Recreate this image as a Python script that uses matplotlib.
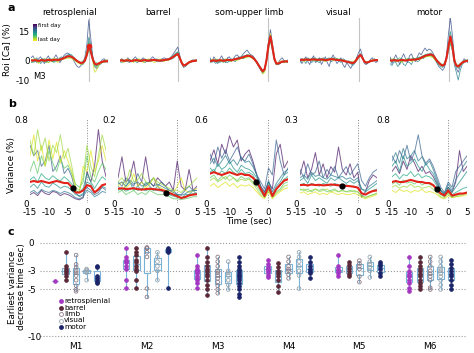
import numpy as np
import matplotlib
matplotlib.use("Agg")
import matplotlib.pyplot as plt
from matplotlib.lines import Line2D

plt.rcParams['font.family'] = ['DejaVu Sans']

# ---------------- data ----------------
regions_a = ["retrosplenial", "barrel", "som-upper limb", "visual", "motor"]
t_a = np.arange(-15, 5.01, 0.5)   # 41 samples
t_b = np.arange(-15, 5.01, 1.0)   # 21 samples

a_mean_retro = [0.2,0.0,0.3,0.1,-0.2,0.2,0.3,0.0,0.2,0.4,0.3, 0.2,0.4,0.5,0.3,0.6,0.9,1.3,1.8,2.2,2.3,
                2.0,1.4,0.6,-0.2,-0.8,-1.2,-1.0,0.0,3.0, 7.5,5.0,1.0,-1.5,-2.0,-1.5,-1.0,-0.6,-0.3,-0.4,-0.2]
a_days_retro = [
    [1.5,2.5,0.5,-1.0,1.0,2.0,0.0,-1.5,1.0,2.5,0.5, -0.5,1.5,3.0,1.0,-1.0,0.5,2.5,3.5,4.0,3.0,
     2.0,0.5,-1.5,-3.0,-3.5,-2.5,-1.0,2.0,8.0, 21.0,12.0,3.0,-3.0,-4.0,-3.0,-1.0,0.5,1.0,-0.5,0.5],
    [-1.0,-0.5,0.5,1.5,0.0,-1.5,-0.5,1.0,0.5,-1.0,0.0, 1.0,0.5,-0.5,0.0,1.5,2.0,1.0,2.5,3.0,3.5,
     3.0,2.0,1.0,0.0,-1.0,-2.0,-2.0,-0.5,4.0, 12.0,9.0,2.0,-2.5,-3.0,-2.0,-2.0,-1.0,0.0,0.5,-1.0],
    [0.5,-1.0,-0.5,0.0,-1.0,0.5,1.0,-0.5,-1.0,0.0,1.0, -0.5,-1.0,0.5,1.0,0.0,0.5,1.5,1.0,2.0,1.5,
     1.5,1.0,0.5,-0.5,-0.5,-1.0,0.0,0.5,2.5, 5.0,4.0,1.0,-0.5,-1.0,-1.5,-1.0,-0.5,-1.0,-0.5,0.0],
    [-0.5,0.5,1.0,-0.5,-1.5,0.0,0.5,1.0,-0.5,-1.0,-0.5, 0.5,1.5,0.0,-1.0,0.5,1.0,0.5,1.5,1.0,1.5,
     1.0,0.5,0.0,-1.0,-1.5,-2.0,-1.5,0.5,5.0, 9.0,6.0,0.0,-6.0,-5.0,-3.0,-1.5,-1.0,0.0,0.5,-0.5],
    [0.0,0.5,-0.5,0.5,0.0,-0.5,1.0,0.5,-0.5,0.5,1.0, 0.0,-0.5,1.0,0.5,0.0,1.5,1.0,2.0,2.5,3.0,
     2.5,1.5,0.5,0.0,-1.0,-1.5,-1.0,0.5,4.0, 10.0,6.0,1.5,-2.0,-2.5,-2.0,-1.0,-0.5,0.0,-0.5,0.0],
    [0.5,0.0,1.0,0.5,-0.5,0.5,0.0,-0.5,0.5,1.0,0.0, 0.5,1.0,0.0,0.5,1.0,0.5,1.5,1.5,2.0,2.0,
     1.5,1.0,0.0,-0.5,-1.0,-1.0,-1.5,-0.5,2.0, 6.0,4.0,0.5,-3.0,-3.5,-2.0,-1.0,-0.5,-0.5,0.0,-0.5],
]

a_mean_barrel = [0.0,0.2,-0.1,0.1,0.2,0.0,-0.2,0.1,0.3,0.2,0.0, -0.1,0.2,0.3,0.1,0.0,0.2,0.4,0.3,0.2,0.1,
                 0.0,0.2,0.3,0.5,0.6,1.0,1.5,2.2,3.0, 3.5,1.5,-1.0,-2.5,-2.2,-1.5,-0.8,-0.4,-0.2,0.0,0.1]
a_days_barrel = [
    [0.5,1.0,-0.5,0.0,1.5,0.5,-0.5,1.0,2.0,0.5,-0.5, 0.5,1.5,0.5,-0.5,0.0,1.0,2.0,1.0,0.5,0.0,
     0.5,1.0,1.5,1.0,0.5,1.5,2.5,4.0,5.5, 7.0,3.0,-1.5,-3.5,-3.0,-2.0,-1.0,0.0,0.5,-0.5,0.0],
    [-0.5,-1.0,0.0,0.5,-0.5,-1.0,0.0,0.5,-0.5,-1.0,0.0, 0.5,-0.5,-1.0,0.0,0.5,-0.5,0.0,0.5,-0.5,-0.5,
     0.0,-0.5,0.5,0.0,0.5,0.5,1.0,1.5,2.5, 3.0,1.0,-1.0,-2.5,-2.5,-1.5,-1.0,-0.5,-0.5,0.0,0.5],
    [0.0,0.5,0.5,-0.5,0.0,0.5,-0.5,-0.5,0.5,1.0,0.5, -0.5,0.0,1.0,0.5,-0.5,0.0,0.5,0.0,1.0,0.5,
     -0.5,0.5,0.0,0.5,1.0,0.5,1.5,2.0,3.5, 4.5,2.0,-0.5,-2.0,-2.5,-1.0,-0.5,-1.0,0.0,0.5,0.0],
    [0.5,-0.5,-1.0,0.5,1.0,-0.5,0.0,-1.0,0.0,-0.5,1.0, 0.0,-1.0,-0.5,0.5,1.0,0.0,-0.5,-1.0,0.0,0.5,
     1.0,0.0,-0.5,0.5,0.0,1.0,2.0,2.5,3.0, 3.5,2.0,-0.5,-3.0,-2.0,-1.5,-0.5,0.0,-0.5,0.5,-0.5],
    [0.0,0.3,0.0,-0.3,0.2,0.5,0.0,-0.2,0.3,0.0,-0.3, 0.2,0.5,0.0,-0.3,0.3,0.5,0.2,0.0,0.5,0.3,
     0.0,0.5,0.5,0.8,1.0,1.2,2.0,3.0,4.0, 4.5,2.0,-1.0,-2.8,-2.5,-1.8,-1.0,-0.5,0.0,0.2,0.0],
    [0.3,0.0,-0.3,0.2,0.0,-0.2,0.3,0.5,0.0,0.2,-0.2, -0.3,0.0,0.3,0.2,-0.2,0.0,0.3,0.5,0.0,0.2,
     0.3,0.0,0.2,0.3,0.5,0.8,1.2,1.8,2.5, 3.0,1.0,-1.5,-2.0,-2.0,-1.2,-0.5,-0.3,-0.3,0.0,0.2],
]

a_mean_som = [-0.3,0.0,0.2,-0.2,0.0,0.3,0.1,-0.1,0.2,0.4,0.3, 0.2,0.5,0.8,1.0,1.2,1.5,1.8,2.2,2.5,2.5,
              2.2,1.5,0.5,-0.8,-2.5,-4.0,-5.5,-4.5,0.5, 8.0,12.5,7.0,1.0,-1.5,-1.5,-1.0,-0.5,-0.5,-0.3,-0.5]
a_days_som = [
    [1.5,-1.0,2.0,0.5,-1.5,1.0,2.5,0.0,-1.0,1.5,2.0, -0.5,1.0,2.5,3.0,1.5,2.0,3.5,4.5,5.5,4.0,
     3.0,2.5,1.0,-1.0,-3.0,-5.0,-6.5,-5.0,1.0, 10.0,16.0,9.0,2.0,-2.0,-1.0,0.5,1.5,0.0,-1.0,0.5],
    [-1.0,0.5,-0.5,-1.5,0.5,-1.0,0.0,1.0,-0.5,-1.0,0.0, 1.0,0.0,-0.5,1.0,2.0,1.5,1.0,2.5,3.0,2.0,
     2.0,1.0,0.5,-0.5,-2.5,-4.0,-5.0,-4.0,0.0, 7.0,11.0,6.0,0.5,-1.0,-2.0,-1.5,-0.5,-1.0,0.0,-1.0],
    [0.0,-0.5,0.5,0.0,-1.0,0.0,-0.5,-1.0,0.5,0.0,-0.5, 0.0,0.5,1.0,0.5,0.5,1.5,1.0,1.5,2.0,2.5,
     2.0,1.5,0.0,-1.5,-3.0,-4.5,-6.0,-5.5,-1.0, 6.0,10.0,5.0,0.0,-2.0,-2.0,-1.0,-1.0,-0.5,-0.5,0.0],
    [-0.5,0.5,0.0,1.0,0.5,-0.5,0.5,0.0,1.0,0.5,0.5, -0.5,0.5,0.5,0.0,1.0,1.0,2.0,1.5,1.5,2.0,
     1.5,1.0,0.0,-1.0,-2.5,-4.0,-7.0,-6.0,0.0, 9.0,14.0,8.0,1.5,-1.0,-1.0,-0.5,0.0,-0.5,-1.0,0.0],
    [0.5,0.0,-0.5,0.5,0.5,-0.5,0.0,0.5,0.0,1.0,0.5, 0.0,1.0,1.0,1.5,1.0,2.0,2.5,2.5,3.0,3.0,
     2.5,2.0,1.0,-0.5,-2.0,-3.5,-5.0,-4.0,1.0, 9.0,13.0,7.5,1.0,-1.5,-2.0,-1.0,-0.5,0.0,-0.5,-0.5],
    [-0.5,0.5,0.0,-0.5,0.0,0.5,-0.5,0.0,-0.5,0.0,0.5, 0.5,0.0,0.5,1.0,1.0,1.0,1.5,2.0,2.0,2.5,
     2.5,1.5,0.5,-1.0,-3.0,-4.5,-6.0,-5.0,0.0, 7.0,12.0,6.5,0.5,-2.0,-1.5,-1.0,-0.5,-1.0,0.0,-0.5],
]

a_mean_visual = [0.3,0.5,0.4,0.6,0.5,0.4,0.6,0.7,0.5,0.4,0.5, 0.6,0.5,0.3,0.4,0.6,0.8,0.7,0.5,0.4,0.3,
                 0.2,0.0,-0.3,-0.5,-0.8,-1.0,-1.2,-0.8,0.5, 2.0,3.0,1.5,-0.5,-1.0,-0.8,-0.3,0.0,0.2,0.3,0.2]
a_days_visual = [
    [1.0,-1.5,0.5,2.0,-0.5,-2.0,1.0,2.5,-1.0,0.5,1.5, -2.0,0.0,2.0,-1.0,-3.0,1.0,3.0,0.5,-1.5,0.0,
     1.5,-2.0,-3.5,-1.0,-2.5,-4.0,-2.0,-1.0,1.5, 4.0,6.0,2.5,-1.5,-2.0,-1.0,0.5,1.5,0.0,-1.0,0.5],
    [-1.0,1.0,0.0,-1.5,1.5,0.5,-1.0,0.0,1.5,-0.5,-1.0, 1.0,1.5,-0.5,1.0,1.5,-0.5,0.0,1.5,1.0,0.0,
     -1.0,1.0,0.5,-1.0,0.0,-1.5,-2.5,-1.5,0.0, 2.0,3.5,1.0,0.0,-1.5,-1.0,-0.5,0.0,1.0,0.5,-0.5],
    [0.5,0.0,1.0,0.5,0.0,1.0,0.5,0.0,-0.5,1.0,0.5, 0.0,0.5,1.0,0.0,0.5,1.0,1.5,0.5,0.0,1.0,
     0.5,0.0,-0.5,0.0,-1.0,-0.5,-1.0,-0.5,0.5, 1.5,2.5,1.5,-0.5,-0.5,-0.5,0.0,-0.5,0.0,0.5,0.0],
    [0.0,0.5,-0.5,0.0,1.0,0.0,0.5,1.0,0.0,0.5,0.0, 0.5,0.0,-0.5,0.5,0.0,1.0,0.0,0.5,1.0,0.5,
     0.0,-0.5,0.0,-0.5,-0.5,-1.0,-0.5,0.0,1.0, 2.0,3.0,1.0,0.0,-1.0,-0.5,0.0,0.5,0.5,0.0,0.5],
    [0.5,1.0,0.0,0.5,1.0,0.0,1.0,1.5,0.5,0.0,1.0, 1.0,0.0,0.5,1.0,0.5,1.5,1.0,0.5,1.0,0.5,
     0.5,0.0,-0.5,-1.0,-1.0,-1.5,-1.5,-1.0,1.0, 2.5,3.5,2.0,-0.5,-1.5,-1.0,-0.5,0.0,0.5,0.0,0.5],
    [0.0,0.5,0.5,1.0,0.0,0.5,0.5,0.0,1.0,0.5,0.0, 0.5,1.0,0.0,0.0,1.0,0.5,0.5,1.0,0.0,0.5,
     0.0,0.5,0.0,-0.5,-1.0,-0.5,-1.0,-0.5,0.0, 1.5,2.5,1.0,0.0,-0.5,-1.0,0.0,0.0,0.5,0.5,0.0],
]

a_mean_motor = [0.2,0.0,0.3,0.1,0.0,0.2,0.4,0.2,0.0,0.3,0.5, 0.4,0.6,0.5,0.8,1.0,1.5,2.0,2.5,2.8,3.0,
                3.2,2.8,1.5,0.0,-1.0,-2.0,-2.5,-2.0,1.5, 7.5,12.5,7.5,0.0,-2.5,-3.0,-2.0,-1.0,-0.5,-0.2,0.0]
a_days_motor = [
    [2.0,-1.5,1.0,3.0,0.5,-2.0,1.5,3.5,1.0,-1.0,2.5, 3.5,1.0,-0.5,2.0,4.0,3.0,5.0,6.5,5.0,6.0,
     5.5,4.0,2.0,-1.0,-3.0,-4.0,-5.0,-3.5,3.0, 14.0,22.0,13.0,2.0,-4.0,-6.0,-3.0,-1.0,1.0,0.0,-1.0],
    [-1.5,-2.5,-0.5,-1.0,-3.0,-1.5,0.0,-2.0,-2.5,-0.5,-1.0, -2.0,0.5,1.0,-0.5,0.0,1.5,1.0,2.0,3.0,2.5,
     3.0,2.0,0.5,-1.0,-2.0,-3.0,-3.5,-2.5,0.5, 5.0,9.0,5.0,-2.0,-6.0,-10.0,-5.0,-2.0,-1.0,-0.5,0.0],
    [0.5,1.0,0.0,-0.5,1.0,1.5,0.5,0.0,1.0,0.5,0.0, 1.0,1.5,0.5,1.0,2.0,1.5,2.5,3.0,2.0,3.0,
     2.5,2.0,1.0,0.5,-0.5,-1.5,-2.0,-1.0,2.0, 8.0,12.0,7.0,1.0,-2.0,-2.5,-1.5,-1.0,0.0,0.5,-0.5],
    [-0.5,0.5,1.0,0.0,-0.5,0.5,-1.0,0.0,0.5,1.0,0.5, -0.5,0.0,0.5,1.5,0.5,1.0,2.0,1.5,2.5,2.0,
     2.0,1.5,0.5,-0.5,-1.5,-2.5,-3.0,-2.0,1.0, 6.0,10.0,6.0,0.5,-2.0,-3.0,-2.0,-1.5,-0.5,0.0,0.5],
    [0.5,0.0,1.0,0.5,0.0,0.5,1.0,0.5,0.0,1.0,1.0, 0.5,1.0,1.0,1.5,1.5,2.0,2.5,3.0,3.5,3.5,
     4.0,3.0,2.0,0.5,-1.0,-2.0,-3.0,-2.0,2.0, 9.0,15.0,9.0,0.5,-3.0,-4.0,-2.5,-1.0,-0.5,0.0,0.5],
    [-0.5,0.5,0.0,-0.5,0.5,0.0,-0.5,0.0,0.5,0.0,0.5, 0.0,0.5,0.0,0.5,1.0,1.0,1.5,2.0,2.5,2.5,
     2.5,2.0,1.0,-0.5,-1.0,-2.0,-2.5,-1.5,1.0, 6.0,11.0,6.0,-0.5,-2.0,-2.5,-1.5,-1.0,0.0,-0.5,0.0],
]

a_means = [a_mean_retro, a_mean_barrel, a_mean_som, a_mean_visual, a_mean_motor]
a_days = [a_days_retro, a_days_barrel, a_days_som, a_days_visual, a_days_motor]

# panel b: variance traces
b_ymax = [0.8, 0.2, 0.6, 0.3, 0.8]
b_ymax_labels = ["0.8", "0.2", "0.6", "0.3", "0.8"]
b_mean = [
    [0.20,0.21,0.20,0.21,0.20,0.19,0.20,0.21,0.20,0.19,0.19,0.15,0.10,0.10,0.12,0.17,0.16,0.10,0.13,0.17,0.18],
    [0.034,0.035,0.033,0.034,0.035,0.033,0.032,0.033,0.034,0.033,0.032,0.031,0.028,0.024,0.020,0.016,0.012,0.014,0.018,0.020,0.021],
    [0.21,0.22,0.21,0.20,0.21,0.22,0.21,0.20,0.21,0.20,0.20,0.18,0.15,0.10,0.05,0.12,0.05,0.10,0.13,0.16,0.17],
    [0.064,0.065,0.063,0.066,0.064,0.065,0.063,0.064,0.066,0.065,0.063,0.062,0.061,0.060,0.058,0.055,0.035,0.030,0.038,0.043,0.045],
    [0.20,0.21,0.20,0.20,0.21,0.22,0.21,0.20,0.20,0.19,0.19,0.17,0.13,0.09,0.07,0.12,0.07,0.08,0.09,0.09,0.10],
]
b_dot_t = [-3.7, -2.8, -3.2, -4.1, -3.0]
b_dot_v = [0.14, 0.024, 0.15, 0.06, 0.133]
b_days = [
    [[0.08,0.10,0.07,0.12,0.09,0.08,0.11,0.10,0.07,0.09,0.08,0.06,0.04,0.03,0.05,0.30,0.20,0.35,0.70,0.40,0.25],
     [0.55,0.45,0.50,0.35,0.40,0.55,0.30,0.35,0.45,0.28,0.33,0.25,0.10,0.06,0.08,0.15,0.12,0.08,0.10,0.15,0.12],
     [0.15,0.18,0.14,0.20,0.16,0.15,0.19,0.17,0.14,0.16,0.15,0.12,0.08,0.07,0.09,0.20,0.18,0.10,0.12,0.16,0.14],
     [0.30,0.40,0.28,0.45,0.35,0.50,0.38,0.30,0.42,0.33,0.36,0.28,0.18,0.15,0.20,0.45,0.25,0.20,0.30,0.38,0.32],
     [0.45,0.65,0.40,0.55,0.35,0.60,0.42,0.58,0.38,0.50,0.40,0.30,0.12,0.10,0.35,0.30,0.50,0.30,0.40,0.55,0.40],
     [0.10,0.12,0.09,0.13,0.11,0.10,0.12,0.11,0.09,0.11,0.10,0.08,0.05,0.04,0.06,0.12,0.10,0.06,0.08,0.11,0.10],
     [0.22,0.25,0.20,0.28,0.24,0.22,0.26,0.23,0.21,0.25,0.22,0.18,0.12,0.10,0.14,0.28,0.20,0.14,0.20,0.25,0.22],
     [0.60,0.45,0.70,0.50,0.62,0.40,0.55,0.48,0.65,0.42,0.52,0.35,0.15,0.12,0.25,0.55,0.35,0.25,0.45,0.65,0.50]],
    [[0.06,0.11,0.05,0.06,0.10,0.04,0.05,0.11,0.05,0.04,0.06,0.05,0.04,0.05,0.03,0.10,0.04,0.03,0.08,0.03,0.04],
     [0.05,0.04,0.06,0.05,0.04,0.07,0.05,0.04,0.05,0.06,0.04,0.05,0.04,0.03,0.03,0.02,0.02,0.03,0.04,0.03,0.03],
     [0.04,0.03,0.04,0.05,0.03,0.04,0.03,0.05,0.04,0.03,0.04,0.03,0.03,0.02,0.02,0.02,0.01,0.02,0.02,0.03,0.02],
     [0.025,0.03,0.02,0.025,0.03,0.02,0.025,0.02,0.03,0.025,0.02,0.02,0.02,0.015,0.01,0.01,0.008,0.01,0.012,0.015,0.015],
     [0.04,0.05,0.035,0.045,0.07,0.04,0.05,0.035,0.045,0.06,0.04,0.035,0.03,0.03,0.025,0.04,0.06,0.03,0.025,0.03,0.035],
     [0.045,0.05,0.04,0.055,0.045,0.05,0.04,0.045,0.05,0.04,0.045,0.04,0.035,0.03,0.025,0.02,0.018,0.022,0.028,0.03,0.03],
     [0.03,0.035,0.028,0.032,0.036,0.03,0.034,0.029,0.033,0.031,0.03,0.028,0.025,0.02,0.016,0.014,0.012,0.015,0.02,0.022,0.024],
     [0.05,0.06,0.045,0.08,0.05,0.055,0.07,0.05,0.045,0.06,0.05,0.045,0.04,0.035,0.03,0.03,0.025,0.035,0.04,0.05,0.06]],
    [[0.30,0.38,0.28,0.42,0.35,0.48,0.40,0.45,0.30,0.35,0.38,0.30,0.20,0.12,0.08,0.15,0.10,0.35,0.42,0.25,0.30],
     [0.35,0.28,0.40,0.32,0.38,0.30,0.35,0.40,0.32,0.30,0.35,0.28,0.20,0.15,0.10,0.25,0.20,0.45,0.30,0.20,0.25],
     [0.25,0.22,0.28,0.24,0.26,0.30,0.25,0.22,0.27,0.25,0.24,0.22,0.18,0.10,0.06,0.15,0.06,0.12,0.15,0.20,0.22],
     [0.18,0.20,0.16,0.19,0.17,0.20,0.18,0.16,0.19,0.17,0.18,0.15,0.12,0.08,0.04,0.10,0.04,0.08,0.10,0.14,0.15],
     [0.12,0.14,0.11,0.13,0.15,0.12,0.14,0.11,0.13,0.12,0.13,0.11,0.08,0.05,0.03,0.08,0.03,0.06,0.08,0.10,0.11],
     [0.28,0.32,0.26,0.30,0.34,0.28,0.31,0.27,0.33,0.29,0.30,0.26,0.20,0.12,0.07,0.16,0.08,0.14,0.18,0.22,0.24],
     [0.22,0.24,0.20,0.23,0.21,0.25,0.22,0.20,0.24,0.21,0.22,0.20,0.15,0.09,0.05,0.12,0.05,0.10,0.13,0.17,0.19],
     [0.16,0.18,0.15,0.17,0.19,0.16,0.18,0.15,0.17,0.16,0.17,0.14,0.10,0.06,0.04,0.09,0.04,0.07,0.09,0.12,0.13]],
    [[0.10,0.15,0.09,0.12,0.18,0.10,0.14,0.09,0.13,0.11,0.20,0.12,0.10,0.14,0.09,0.11,0.02,0.04,0.08,0.10,0.09],
     [0.12,0.09,0.14,0.10,0.11,0.15,0.09,0.12,0.10,0.13,0.09,0.11,0.13,0.10,0.12,0.14,0.08,0.06,0.09,0.11,0.12],
     [0.08,0.09,0.07,0.10,0.08,0.09,0.08,0.07,0.09,0.08,0.09,0.08,0.07,0.08,0.07,0.08,0.05,0.04,0.05,0.06,0.07],
     [0.05,0.045,0.05,0.04,0.05,0.045,0.05,0.04,0.045,0.05,0.04,0.045,0.04,0.045,0.04,0.04,0.025,0.02,0.025,0.03,0.035],
     [0.035,0.04,0.03,0.035,0.04,0.03,0.035,0.03,0.04,0.035,0.03,0.035,0.03,0.03,0.035,0.03,0.02,0.015,0.02,0.025,0.03],
     [0.09,0.10,0.085,0.11,0.095,0.10,0.09,0.085,0.10,0.095,0.09,0.095,0.085,0.09,0.08,0.09,0.05,0.045,0.06,0.07,0.08],
     [0.065,0.07,0.06,0.07,0.065,0.06,0.07,0.065,0.06,0.07,0.065,0.06,0.065,0.06,0.06,0.055,0.035,0.03,0.035,0.045,0.05],
     [0.045,0.05,0.04,0.045,0.05,0.04,0.045,0.05,0.04,0.045,0.04,0.045,0.04,0.04,0.045,0.04,0.025,0.02,0.025,0.03,0.035]],
    [[0.30,0.35,0.28,0.40,0.32,0.45,0.38,0.30,0.35,0.28,0.30,0.25,0.18,0.12,0.08,0.15,0.10,0.20,0.50,0.30,0.35],
     [0.45,0.38,0.50,0.42,0.55,0.40,0.48,0.65,0.45,0.38,0.42,0.35,0.25,0.15,0.10,0.20,0.15,0.30,0.35,0.40,0.45],
     [0.35,0.40,0.30,0.45,0.35,0.38,0.42,0.35,0.30,0.38,0.32,0.28,0.20,0.12,0.08,0.15,0.10,0.15,0.20,0.25,0.30],
     [0.18,0.20,0.17,0.22,0.19,0.20,0.18,0.21,0.17,0.19,0.18,0.16,0.12,0.08,0.06,0.10,0.06,0.07,0.08,0.09,0.10],
     [0.12,0.10,0.13,0.11,0.12,0.10,0.12,0.11,0.13,0.10,0.11,0.10,0.08,0.05,0.04,0.07,0.05,0.06,0.06,0.07,0.08],
     [0.40,0.48,0.38,0.52,0.42,0.45,0.50,0.40,0.44,0.36,0.40,0.32,0.22,0.12,0.09,0.18,0.12,0.22,0.28,0.35,0.40],
     [0.25,0.28,0.23,0.27,0.26,0.30,0.25,0.28,0.24,0.26,0.25,0.22,0.16,0.10,0.07,0.13,0.08,0.10,0.12,0.14,0.15],
     [0.15,0.17,0.14,0.16,0.15,0.18,0.15,0.16,0.14,0.15,0.16,0.13,0.10,0.06,0.05,0.09,0.05,0.06,0.07,0.08,0.09]],
]

# panel c: earliest variance decrease time per mouse / region
mice = ["M1", "M2", "M3", "M4", "M5", "M6"]
c_regions = ["retrosplenial", "barrel", "limb", "visual", "motor"]
c_m1 = [[-4.1],
        [-1.0, -2.5, -2.8, -3.0, -3.2, -3.5, -4.0],
        [-1.3, -2.3, -2.6, -3.0, -3.2, -3.5, -4.0, -4.6, -5.0, -5.2],
        [-2.8, -2.9, -3.0, -3.2, -4.0],
        [-2.5, -2.6, -3.5, -3.8, -4.0, -4.2, -4.3]]
c_m2 = [[-0.5, -1.5, -1.8, -2.0, -2.0, -2.5, -2.8, -4.0, -4.8],
        [-0.5, -1.0, -1.3, -1.8, -2.0, -2.5, -2.8, -3.0, -4.0, -4.8],
        [-0.5, -0.5, -0.6, -1.0, -1.5, -4.9, -5.8],
        [-1.0, -1.5, -2.0, -2.5, -3.0, -4.0],
        [-0.5, -0.6, -0.8, -0.9, -1.0, -4.8]]
c_m3 = [[-1.3, -2.5, -2.8, -3.0, -3.0, -3.2, -3.5, -3.8, -4.0, -4.3, -4.8],
        [-0.5, -1.5, -2.0, -2.5, -2.8, -3.0, -3.3, -3.6, -4.0, -4.5, -5.0, -5.6],
        [-1.5, -2.0, -2.5, -3.0, -3.2, -3.5, -3.8, -4.2, -4.6, -5.0, -5.4],
        [-2.0, -3.0, -3.2, -3.5, -4.0, -4.5, -5.0],
        [-1.5, -2.0, -2.5, -2.8, -3.0, -3.2, -3.4, -3.6, -3.8, -4.0, -4.3, -4.6, -5.0, -5.5, -5.8]]
c_m4 = [[-1.8, -2.3, -2.6, -2.8, -2.9, -3.1, -3.4, -3.7],
        [-2.2, -2.6, -3.0, -3.2, -3.5, -4.0, -4.6, -5.3],
        [-1.5, -2.0, -2.5, -2.8, -3.0, -3.4, -3.8],
        [-1.0, -1.5, -2.0, -2.5, -3.0, -3.5, -4.9],
        [-1.5, -2.0, -2.5, -2.8, -3.0, -3.2, -3.8]]
c_m5 = [[-1.3, -2.5, -2.8, -3.0, -3.2, -3.5],
        [-2.0, -2.4, -2.7, -3.0, -3.3, -3.6],
        [-1.9, -2.2, -2.5, -2.8, -3.6, -4.2],
        [-1.5, -2.0, -2.3, -2.6, -3.0, -3.7],
        [-2.0, -2.3, -2.5, -2.8, -3.2, -3.6]]
c_m6 = [[-1.5, -2.5, -3.0, -3.3, -3.5, -3.6, -4.0, -4.3, -4.8, -5.2],
        [-1.5, -2.0, -2.5, -2.8, -3.0, -3.3, -3.6, -4.0, -4.3, -4.6, -5.0],
        [-1.5, -2.0, -2.5, -3.0, -3.3, -3.6, -4.0, -4.8, -5.0],
        [-1.5, -2.0, -2.5, -2.8, -3.0, -3.3, -3.6, -4.0, -4.5, -5.0],
        [-1.8, -2.3, -2.7, -3.0, -3.3, -3.6, -4.0, -4.5, -5.0]]
c_data = [c_m1, c_m2, c_m3, c_m4, c_m5, c_m6]
c_yticks = [0, -3, -5, -10]

# ---------------- styling ----------------
W, H = 474, 353
fig = plt.figure(figsize=(W / 100, H / 100), dpi=100)

def px_axes(l, t, r, b):
    return fig.add_axes([l / W, 1 - b / H, (r - l) / W, (b - t) / H])

cmap = plt.get_cmap("viridis")
day_lv_a = [0.25, 0.45, 0.7, 0.92, 0.55, 0.8]
day_lv_b = [0.05, 0.3, 0.5, 0.75, 0.95, 0.4, 0.6, 0.85]
red = "#e3231a"

# ---- panel a ----
a_boxes = [(31, 18, 108, 82), (120, 18, 197, 82), (210, 18, 288, 82), (300, 18, 378, 82), (390, 18, 468, 82)]
for k, name in enumerate(regions_a):
    ax = px_axes(*a_boxes[k])
    ax.axvline(0, color="#c4c4c4", lw=0.8, zorder=0)
    for d, tr in enumerate(a_days[k]):
        ax.plot(t_a, tr, color=cmap(day_lv_a[d]), lw=0.6, alpha=0.8)
    ax.plot(t_a, a_means[k], color=red, lw=1.5)
    ax.set_xlim(-15, 5)
    ax.set_ylim(-11, 22)
    ax.set_title(name, fontsize=6.3, pad=2)
    for s in ax.spines.values():
        s.set_visible(False)
    ax.set_xticks([])
    if k == 0:
        ax.set_yticks([15, 0, -10])
        ax.set_yticklabels(["15", "0", "-10"], fontsize=6.3)
        ax.tick_params(axis="y", length=0, pad=1)
        ax.text(-14.5, -8, "M3", fontsize=6, va="center")
        imax = int(np.argmax(a_means[k]))
        ax.plot(t_a[imax], a_means[k][imax], "o", color=red, ms=3)
    else:
        ax.set_yticks([])

fig.text(8 / W, 1 - 50 / H, "Roi [Ca] (%)", rotation=90, fontsize=6.3, ha="center", va="center")
cb = px_axes(33, 24, 37, 41)
cb.imshow(np.linspace(0, 1, 40)[:, None], cmap=cmap, aspect="auto")
cb.axis("off")
fig.text(38 / W, 1 - 26 / H, "first day", fontsize=4, va="center")
fig.text(38 / W, 1 - 39 / H, "last day", fontsize=4, va="center")

# ---- panel b ----
b_boxes = [(30, 119, 106, 203), (118, 119, 197, 203), (210, 119, 288, 203), (300, 119, 377, 203), (392, 119, 467, 203)]
for k in range(5):
    ax = px_axes(*b_boxes[k])
    ax.axvline(0, color="#888888", ls=":", lw=0.7, zorder=0)
    for d, tr in enumerate(b_days[k]):
        ax.plot(t_b, tr, color=cmap(day_lv_b[d]), lw=0.7, alpha=0.7)
    ax.plot(t_b, b_mean[k], color=red, lw=1.5)
    ax.scatter([b_dot_t[k]], [b_dot_v[k]], s=12, color="black", zorder=5)
    ax.set_xlim(-15, 5)
    ax.set_ylim(0, b_ymax[k])
    for s in ax.spines.values():
        s.set_visible(False)
    ax.set_xticks([-15, -10, -5, 0, 5])
    ax.set_xticklabels(["-15", "-10", "-5", "0", "5"], fontsize=6.3)
    ax.set_yticks([0, b_ymax[k]])
    ax.set_yticklabels(["0", b_ymax_labels[k]], fontsize=6.3)
    ax.tick_params(axis="y", length=0, pad=1)
    ax.tick_params(axis="x", length=0, pad=3.5)
    if k == 2:
        ax.set_xlabel("Time (sec)", fontsize=6.3, labelpad=0)

fig.text(12 / W, 1 - 165 / H, "Variance (%)", rotation=90, fontsize=6.3, ha="center", va="center")

# ---- panel c ----
c_colors = ["#a437c2", "#5a2838", "#8e7c86", "#9aa6b0", "#1b2468"]
c_filled = [True, True, False, False, True]
ax = px_axes(40, 237.4, 467, 338.8)
for v in c_yticks:
    ax.axhline(v, color="#9a9a9a", ls=":", lw=0.8, zorder=0)
box_c = "#78b2d6"
off = 0.148
for i in range(len(mice)):
    for j in range(len(c_regions)):
        vals = c_data[i][j]
        pos = i + (j - 2) * off
        ax.boxplot(vals, positions=[pos], widths=0.09, whis=(0, 100), showfliers=False,
                   patch_artist=True, manage_ticks=False,
                   boxprops=dict(facecolor="none", edgecolor=box_c, lw=0.8),
                   whiskerprops=dict(color=box_c, lw=0.8), capprops=dict(color=box_c, lw=0),
                   medianprops=dict(color=box_c, lw=0.8))
        fc = c_colors[j] if c_filled[j] else "none"
        ax.scatter([pos] * len(vals), vals, s=7, facecolor=fc, edgecolor=c_colors[j], lw=0.6, zorder=3)
ax.set_xlim(-0.51, 5.52)
ax.set_ylim(-10.3, 0.6)
for s in ax.spines.values():
    s.set_visible(False)
ax.set_xticks(range(len(mice)))
ax.set_xticklabels(mice, fontsize=6.5)
ax.set_yticks(c_yticks)
ax.set_yticklabels([str(v) for v in c_yticks], fontsize=6.3)
for lbl in ax.get_yticklabels():
    lbl.set_horizontalalignment("left")
ax.tick_params(axis="y", length=0, pad=8.6)
ax.tick_params(axis="x", length=0, pad=2)

# manual legend (compact rows as in the original)
for j, name in enumerate(c_regions):
    ypx = 301 + j * 6.5
    fig.add_artist(Line2D([61 / W], [1 - ypx / H], ls="none", marker="o", ms=2.8,
                          markerfacecolor=(c_colors[j] if c_filled[j] else "none"),
                          markeredgecolor=c_colors[j], markeredgewidth=0.6))
    fig.text(64 / W, 1 - ypx / H, name, fontsize=5.3, va="center", ha="left")

fig.text(17 / W, 1 - 287 / H, "Earliest variance\ndecrease time (sec)", rotation=90, fontsize=6.3,
         ha="center", va="center", linespacing=1.0)

# panel labels
fig.text(8 / W, 1 - 8 / H, "a", fontsize=8, fontweight="bold", va="center")
fig.text(8 / W, 1 - 104 / H, "b", fontsize=8, fontweight="bold", va="center")
fig.text(8 / W, 1 - 232 / H, "c", fontsize=8, fontweight="bold", va="center")

fig.savefig("out.png", dpi=100)
